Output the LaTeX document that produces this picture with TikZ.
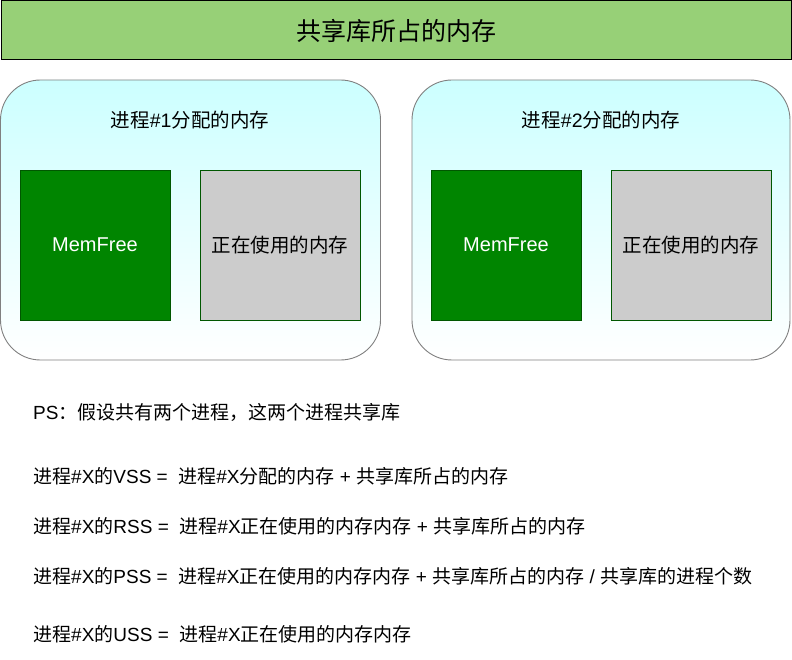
\documentclass[tikz,border=0pt]{standalone}
\usepackage{fontspec}
\setmainfont{Liberation Sans}
\newfontfamily\cjk{Noto Sans CJK SC}
\newcommand\C[1]{{\cjk #1}}
\definecolor{barfill}{HTML}{97D077}
\definecolor{procfill}{HTML}{CCFFFF}
\definecolor{procline}{HTML}{808080}
\definecolor{freefill}{HTML}{008500}
\definecolor{freeline}{HTML}{005700}
\definecolor{usedfill}{HTML}{CCCCCC}
\begin{document}
\begin{tikzpicture}[x=1pt,y=-1pt,
  bar/.style={draw=black,line width=1pt,fill=barfill,inner sep=0pt,
    minimum width=790pt,minimum height=59pt,font=\fontsize{25}{29}\selectfont},
  procbox/.style={draw=procline,line width=0.9pt,rounded corners=40pt,
    top color=procfill,bottom color=white,inner sep=0pt,minimum height=280pt},
  freebox/.style={draw=freeline,line width=0.8pt,fill=freefill,inner sep=0pt,
    minimum width=150pt,minimum height=150pt,text=white,font=\fontsize{20}{24}\selectfont},
  usedbox/.style={draw=freeline,line width=0.8pt,fill=usedfill,inner sep=0pt,
    minimum width=160pt,minimum height=150pt,font=\fontsize{19.5}{23}\selectfont},
  proctitle/.style={inner sep=0pt,font=\fontsize{19.5}{23}\selectfont},
  note/.style={anchor=west,inner sep=0pt,font=\fontsize{19}{23}\selectfont}]
\useasboundingbox (0,0) rectangle (792,660);

\node[bar] (shared) at (396,30.5) {\C{共享库所占的内存}};

\node[procbox,minimum width=380pt] (p1) at (190.5,220) {};
\node[procbox,minimum width=378pt] (p2) at (601,220) {};

\node[proctitle] (p1t) at (190,120) {\C{进程}\#1\C{分配的内存}};
\node[proctitle] (p2t) at (601,120) {\C{进程}\#2\C{分配的内存}};

\node[freebox] (f1) at (95,245) {MemFree};
\node[usedbox] (u1) at (280,245) {\C{正在使用的内存}};
\node[freebox] (f2) at (506,245) {MemFree};
\node[usedbox] (u2) at (691,245) {\C{正在使用的内存}};

\node[note] (ps) at (33,412) {PS\C{：假设共有两个进程，这两个进程共享库}};
\node[note] (vss) at (33,476) {\C{进程}\#X\C{的}VSS =\ \ \C{进程}\#X\C{分配的内存} + \C{共享库所占的内存}};
\node[note] (rss) at (33,526) {\C{进程}\#X\C{的}RSS =\ \ \C{进程}\#X\C{正在使用的内存内存} + \C{共享库所占的内存}};
\node[note] (pss) at (33,576) {\C{进程}\#X\C{的}PSS =\ \ \C{进程}\#X\C{正在使用的内存内存} + \C{共享库所占的内存} / \C{共享库的进程个数}};
\node[note] (uss) at (33,634) {\C{进程}\#X\C{的}USS =\ \ \C{进程}\#X\C{正在使用的内存内存}};
\end{tikzpicture}
\end{document}
